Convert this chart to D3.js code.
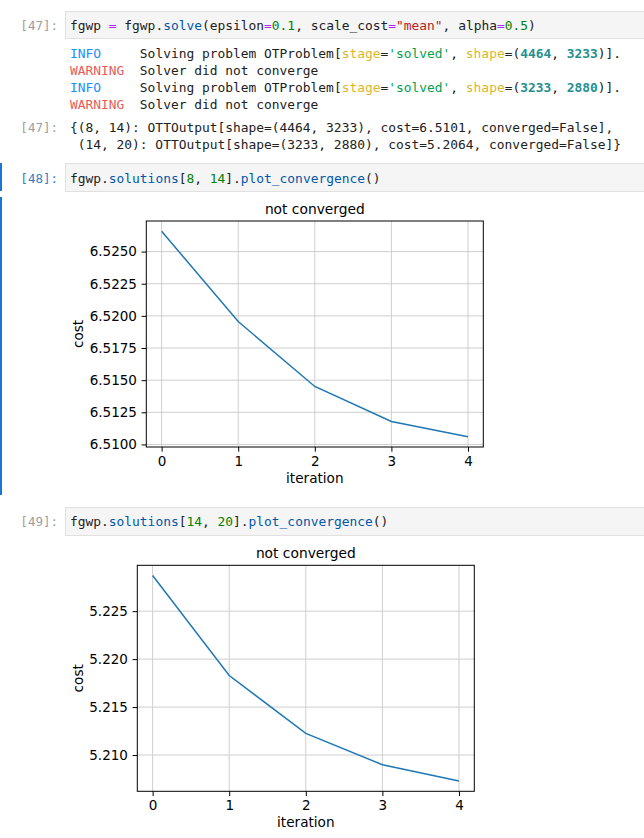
<!DOCTYPE html>
<html>
<head>
<meta charset="utf-8">
<script src="https://cdn.jsdelivr.net/npm/d3@7"></script>
<style>
  body { margin: 0; background: #fff; width: 644px; height: 838px; overflow: hidden; position: relative; }
  .mono { font-family: "DejaVu Sans Mono", monospace; font-size: 12.9px; white-space: pre; line-height: 17px; position: absolute; color: #212121; }
  .prompt { font-family: "DejaVu Sans Mono", monospace; font-size: 12.5px; position: absolute; width: 58px; text-align: right; left: 0; line-height: 17px; color: #9e9e9e; white-space: pre; }
  .cellbox { position: absolute; left: 65px; width: 600px; background: #f5f5f5; border: 1px solid #e0e0e0; box-sizing: border-box; }
  .bar { position: absolute; left: 0; width: 2px; background: #1976d2; }
  .op { color: #aa22ff; } .pr { color: #0055aa; } .nu { color: #008000; } .st { color: #ba2121; }
  .ai { color: #208ffb; } .aw { color: #e75c58; } .ay { color: #ddb62b; } .ag { color: #00a250; } .ac { color: #258f8f; font-weight: bold; }
  svg { position: absolute; left: 0; top: 0; }
</style>
</head>
<body>
<div class="cellbox" style="top:11px;height:28px"></div>
<div class="prompt" style="top:16.5px">[47]:</div>
<div class="mono" style="left:70px;top:16.5px">fgwp <span class="op">=</span> fgwp.<span class="pr">solve</span>(epsilon<span class="op">=</span><span class="nu">0.1</span>, scale_cost<span class="op">=</span><span class="st">"mean"</span>, alpha<span class="op">=</span><span class="nu">0.5</span>)</div>
<div class="mono" style="left:70px;top:44.8px"><span class="ai">INFO    </span> Solving problem OTProblem[<span class="ay">stage</span>=<span class="ag">'solved'</span>, <span class="ay">shape</span>=(<span class="ac">4464</span>, <span class="ac">3233</span>)].
<span class="aw">WARNING </span> Solver did not converge
<span class="ai">INFO    </span> Solving problem OTProblem[<span class="ay">stage</span>=<span class="ag">'solved'</span>, <span class="ay">shape</span>=(<span class="ac">3233</span>, <span class="ac">2880</span>)].
<span class="aw">WARNING </span> Solver did not converge</div>
<div class="prompt" style="top:118.8px">[47]:</div>
<div class="mono" style="left:70px;top:118.8px">{(8, 14): OTTOutput[shape=(4464, 3233), cost=6.5101, converged=False],
 (14, 20): OTTOutput[shape=(3233, 2880), cost=5.2064, converged=False]}</div>

<div class="bar" style="top:162.5px;height:28.5px"></div>
<div class="bar" style="top:197.3px;height:298px"></div>
<div class="cellbox" style="top:163px;height:28.5px"></div>
<div class="prompt" style="top:169.5px;color:#307fc1">[48]:</div>
<div class="mono" style="left:70px;top:169.5px">fgwp.<span class="pr">solutions</span>[<span class="nu">8</span>, <span class="nu">14</span>].<span class="pr">plot_convergence</span>()</div>

<div class="cellbox" style="top:506.7px;height:29px"></div>
<div class="prompt" style="top:513px">[49]:</div>
<div class="mono" style="left:70px;top:513px">fgwp.<span class="pr">solutions</span>[<span class="nu">14</span>, <span class="nu">20</span>].<span class="pr">plot_convergence</span>()</div>

<script>
var iterations = [0, 1, 2, 3, 4];
var cost1 = [6.52658, 6.51956, 6.51451, 6.51179, 6.51060];
var cost2 = [5.22871, 5.21829, 5.21225, 5.20899, 5.20729];
var xTicks = [0, 1, 2, 3, 4];
var yTicks1 = [6.5100, 6.5125, 6.5150, 6.5175, 6.5200, 6.5225, 6.5250];
var yTicks2 = [5.210, 5.215, 5.220, 5.225];

var svg = d3.select("body").append("svg").attr("width", 644).attr("height", 838);

// one matplotlib-ish convergence plot
function drawPlot(left, top, values, yTicks, fmt) {
  var w = 337, h = 226;
  var lo = d3.min(values), hi = d3.max(values), pad = (hi - lo) * 0.05;

  var x = d3.scaleLinear().domain([-0.2, 4.2]).range([0, w]);
  var y = d3.scaleLinear().domain([lo - pad, hi + pad]).range([h, 0]);

  var g = svg.append("g").attr("transform", "translate(" + left + "," + top + ")")
    .style("font-family", "'DejaVu Sans', sans-serif");

  // grid
  g.selectAll("line.gx").data(xTicks).enter().append("line")
    .attr("x1", function(d){ return x(d); }).attr("x2", function(d){ return x(d); })
    .attr("y1", 0).attr("y2", h)
    .attr("stroke", "#cfcfcf").attr("stroke-width", 1);
  g.selectAll("line.gy").data(yTicks).enter().append("line")
    .attr("y1", function(d){ return y(d); }).attr("y2", function(d){ return y(d); })
    .attr("x1", 0).attr("x2", w)
    .attr("stroke", "#cfcfcf").attr("stroke-width", 1);

  var line = d3.line()
    .x(function(d, i){ return x(iterations[i]); })
    .y(function(d){ return y(d); });

  g.append("path")
    .attr("fill", "none")
    .attr("stroke", "#1f77b4")
    .attr("stroke-width", 1.5)
    .attr("d", line(values));

  // axes
  var xAxis = g.append("g").attr("transform", "translate(0," + h + ")")
    .call(d3.axisBottom(x).tickValues(xTicks).tickSize(4.7).tickPadding(4.7).tickFormat(d3.format("d")));
  var yAxis = g.append("g")
    .call(d3.axisLeft(y).tickValues(yTicks).tickSize(4.7).tickPadding(4.7).tickFormat(d3.format(fmt)));
  [xAxis, yAxis].forEach(function(a){
    a.select(".domain").remove();
    a.selectAll("line").attr("stroke", "#000").attr("stroke-width", 1);
    a.selectAll("text").attr("fill", "#000").style("font-size", "13.5px").style("font-family", "'DejaVu Sans', sans-serif");
  });

  g.append("rect").attr("width", w).attr("height", h)
    .attr("fill", "none").attr("stroke", "#000").attr("stroke-width", 1);

  g.append("text").attr("x", w / 2).attr("y", -7.5)
    .attr("text-anchor", "middle").style("font-size", "13.8px").text("not converged");
  g.append("text").attr("x", w / 2).attr("y", h + 36)
    .attr("text-anchor", "middle").style("font-size", "13.6px").text("iteration");
  g.append("text")
    .attr("transform", "translate(" + (82.5 - left) + "," + (h / 2) + ") rotate(-90)")
    .attr("text-anchor", "middle").style("font-size", "13.6px").text("cost");
}

drawPlot(146.3, 221, cost1, yTicks1, ".4f");
drawPlot(137.3, 565.3, cost2, yTicks2, ".3f");
</script>
</body>
</html>
